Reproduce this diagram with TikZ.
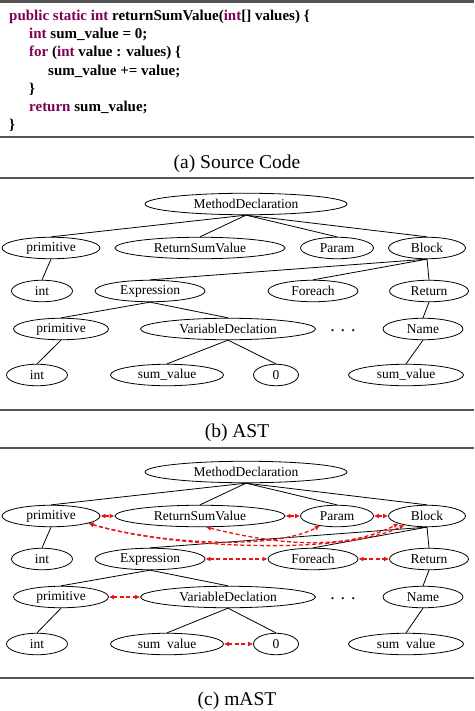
\documentclass[tikz,border=0pt]{standalone}
\usepackage{fontspec}
\setmainfont{Liberation Serif}
\usetikzlibrary{arrows.meta,shapes.geometric}
\definecolor{kwc}{RGB}{127,0,85}
\definecolor{rulec}{RGB}{85,85,85}
\definecolor{relc}{RGB}{235,20,20}
\tikzset{
  nd/.style={draw=black, ellipse, minimum height=21.5pt, inner sep=1pt, line width=0.8pt, font=\fontsize{13.5}{16}\selectfont},
  tree/.style={draw=black, line width=0.8pt},
  rel/.style={draw=relc, line width=1.3pt, dash pattern=on 4pt off 2.5pt, {Latex[length=5pt,width=5pt]}-{Latex[length=5pt,width=5pt]}},
  hrule/.style={draw=rulec, line width=1.2pt},
  captxt/.style={font=\fontsize{19.5}{22}\selectfont, inner sep=0pt},
  codeline/.style={anchor=base west, inner sep=0pt, font=\fontsize{15}{18}\selectfont\bfseries},
  gap/.style={inner sep=0pt, font=\fontsize{18}{20}\selectfont}
}

\begin{document}
\begin{tikzpicture}[x=1pt, y=-1pt]
  \useasboundingbox (0,0) rectangle (474,711);

  % ---- (a) source code ----
  \draw[hrule, line width=2.6pt] (0,1.3) -- (474,1.3);
  \node[codeline] (l1) at (9,20.5) {\textcolor{kwc}{public static int} returnSumValue(\textcolor{kwc}{int}[] values) \{};
  \node[codeline] (l2) at (29,38.75) {\textcolor{kwc}{int} sum\_value = 0;};
  \node[codeline] (l3) at (29,57) {\textcolor{kwc}{for} (\textcolor{kwc}{int} value : values) \{};
  \node[codeline] (l4) at (48,75.25) {sum\_value += value;};
  \node[codeline] (l5) at (29,93.5) {\}};
  \node[codeline] (l6) at (29,111.75) {\textcolor{kwc}{return} sum\_value;};
  \node[codeline] (l7) at (9,130) {\}};
  \draw[hrule] (0,137) -- (474,137);
  \node[captxt] (capa) at (237,164) {(a) Source Code};
  \draw[hrule] (0,178) -- (474,178);

  % ---- (b) AST ----
  \node[nd, minimum width=202pt] (b-md) at (246,204) {MethodDeclaration};
  \node[nd, minimum width=98pt] (b-prim) at (51,248) {primitive};
  \node[nd, minimum width=170pt] (b-rsv) at (200,248) {ReturnSumValue};
  \node[nd, minimum width=73pt] (b-param) at (337,248) {Param};
  \node[nd, minimum width=77pt] (b-block) at (427,248) {Block};
  \node[nd, minimum width=61pt] (b-int) at (42,291) {int};
  \node[nd, minimum width=110pt] (b-expr) at (150,291) {Expression};
  \node[nd, minimum width=90pt] (b-fe) at (313,291) {Foreach};
  \node[nd, minimum width=79pt] (b-ret) at (429,291) {Return};
  \node[nd, minimum width=95pt] (b-prim2) at (61,329) {primitive};
  \node[nd, minimum width=175pt] (b-vd) at (228,329) {VariableDeclation};
  \node[gap] (b-dots) at (343,331) {.\,\,.\,\,.};
  \node[nd, minimum width=80pt] (b-name) at (423,329) {Name};
  \node[nd, minimum width=61pt] (b-int2) at (37,375) {int};
  \node[nd, minimum width=113pt] (b-sv) at (167,375) {sum\_value};
  \node[nd, minimum width=45pt] (b-zero) at (276,375) {0};
  \node[nd, minimum width=115pt] (b-sv2) at (406,375) {sum\_value};

  \draw[tree] (b-md.south) -- (b-prim.north);
  \draw[tree] (b-md.south) -- (b-rsv.north);
  \draw[tree] (b-md.south) -- (b-param.north);
  \draw[tree] (b-md.south) -- (b-block.north);
  \draw[tree] (b-prim.south) -- (b-int.north);
  \draw[tree] (b-block.south) -- (b-expr.north);
  \draw[tree] (b-block.south) -- (b-fe.north);
  \draw[tree] (b-block.south) -- (b-ret.north);
  \draw[tree] (b-expr.south) -- (b-prim2.north);
  \draw[tree] (b-expr.south) -- (b-vd.north);
  \draw[tree] (b-ret.south) -- (b-name.north);
  \draw[tree] (b-prim2.south) -- (b-int2.north);
  \draw[tree] (b-vd.south) -- (b-sv.north);
  \draw[tree] (b-vd.south) -- (b-zero.north);
  \draw[tree] (b-name.south) -- (b-sv2.north);

  \draw[hrule] (0,410) -- (474,410);
  \node[captxt] (capb) at (237,433) {(b) AST};
  \draw[hrule] (0,448) -- (474,448);

  % ---- (c) mAST ----
  \node[nd, minimum width=202pt] (c-md) at (246,472) {MethodDeclaration};
  \node[nd, minimum width=98pt] (c-prim) at (51,516) {primitive};
  \node[nd, minimum width=170pt] (c-rsv) at (200,516) {ReturnSumValue};
  \node[nd, minimum width=73pt] (c-param) at (337,516) {Param};
  \node[nd, minimum width=77pt] (c-block) at (427,516) {Block};
  \node[nd, minimum width=61pt] (c-int) at (42,559) {int};
  \node[nd, minimum width=110pt] (c-expr) at (150,559) {Expression};
  \node[nd, minimum width=90pt] (c-fe) at (313,559) {Foreach};
  \node[nd, minimum width=79pt] (c-ret) at (429,559) {Return};
  \node[nd, minimum width=95pt] (c-prim2) at (61,597) {primitive};
  \node[nd, minimum width=175pt] (c-vd) at (228,597) {VariableDeclation};
  \node[gap] (c-dots) at (343,599) {.\,\,.\,\,.};
  \node[nd, minimum width=80pt] (c-name) at (423,597) {Name};
  \node[nd, minimum width=61pt] (c-int2) at (37,644) {int};
  \node[nd, minimum width=113pt] (c-sv) at (167,644) {sum\ \ value};
  \node[nd, minimum width=45pt] (c-zero) at (276,644) {0};
  \node[nd, minimum width=115pt] (c-sv2) at (406,644) {sum\ \ value};

  \draw[tree] (c-md.south) -- (c-prim.north);
  \draw[tree] (c-md.south) -- (c-rsv.north);
  \draw[tree] (c-md.south) -- (c-param.north);
  \draw[tree] (c-md.south) -- (c-block.north);
  \draw[tree] (c-prim.south) -- (c-int.north);
  \draw[tree] (c-block.south) -- (c-expr.north);
  \draw[tree] (c-block.south) -- (c-fe.north);
  \draw[tree] (c-block.south) -- (c-ret.north);
  \draw[tree] (c-expr.south) -- (c-prim2.north);
  \draw[tree] (c-expr.south) -- (c-vd.north);
  \draw[tree] (c-ret.south) -- (c-name.north);
  \draw[tree] (c-prim2.south) -- (c-int2.north);
  \draw[tree] (c-vd.south) -- (c-sv.north);
  \draw[tree] (c-vd.south) -- (c-zero.north);
  \draw[tree] (c-name.south) -- (c-sv2.north);

  % sibling links
  \draw[rel] (c-prim) -- (c-rsv);
  \draw[rel] (c-rsv) -- (c-param);
  \draw[rel] (c-param) -- (c-block);
  \draw[rel] (c-prim.-11) .. controls (150,542) and (270,552) .. (c-param.-150);
  \draw[rel] (c-prim.-11) .. controls (170,548) and (340,556) .. (c-block.-158);
  \draw[rel] (c-rsv.-62) .. controls (290,548) and (350,548) .. (c-block.-165);
  \draw[rel] (c-expr) -- (c-fe);
  \draw[rel] (c-fe) -- (c-ret);
  \draw[rel] (c-prim2) -- (c-vd);
  \draw[rel] (c-sv) -- (c-zero);

  \draw[hrule] (0,678) -- (474,678);
  \node[captxt] (capc) at (237,701) {(c) mAST};
\end{tikzpicture}
\end{document}
